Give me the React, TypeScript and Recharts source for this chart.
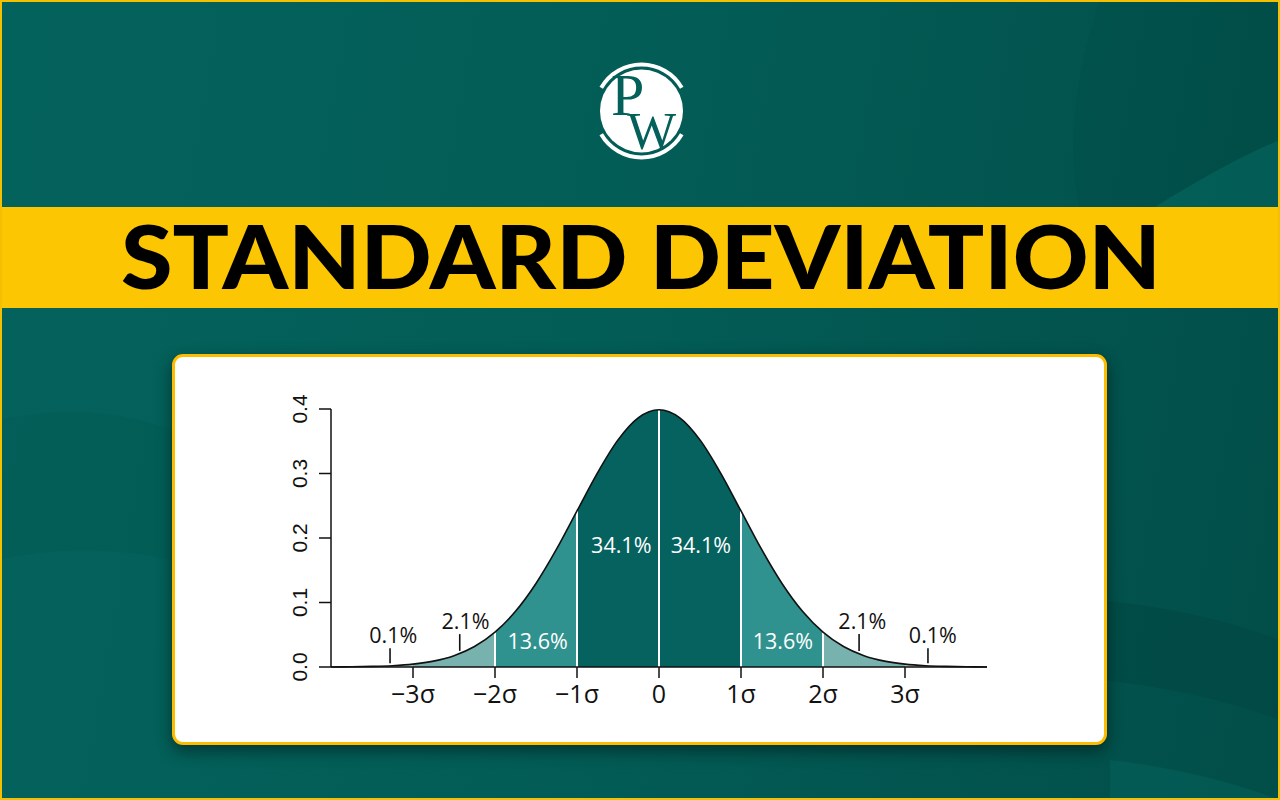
import React from "react";
import {
  ComposedChart,
  Area,
  Line,
  XAxis,
  YAxis,
  ReferenceLine,
  ReferenceDot,
} from "recharts";

// density of the curve, every quarter sigma
const xs = [
  -4, -3.75, -3.5, -3.25, -3, -2.75, -2.5, -2.25, -2, -1.75, -1.5, -1.25, -1, -0.75, -0.5, -0.25,
  0, 0.25, 0.5, 0.75, 1, 1.25, 1.5, 1.75, 2, 2.25, 2.5, 2.75, 3, 3.25, 3.5, 3.75, 4,
];
const density = [
  0.0001, 0.0004, 0.0009, 0.002, 0.0044, 0.0091, 0.0175, 0.0317, 0.054, 0.0863, 0.1295, 0.1826,
  0.242, 0.3011, 0.3521, 0.3867, 0.3989, 0.3867, 0.3521, 0.3011, 0.242, 0.1826, 0.1295, 0.0863,
  0.054, 0.0317, 0.0175, 0.0091, 0.0044, 0.002, 0.0009, 0.0004, 0.0001,
];

// sigma bands
const bandEdges = [-3, -2, -1, 1, 2, 3];
const bandColors = ["#b7d6d3", "#78b2ae", "#2f928e", "#05625f", "#2f928e", "#78b2ae", "#b7d6d3"];
const dividerX = [-2, -1, 0, 1, 2];

// axes
const xTicks = [-3, -2, -1, 0, 1, 2, 3];
const xTickLabels = ["\u22123\u03c3", "\u22122\u03c3", "\u22121\u03c3", "0", "1\u03c3", "2\u03c3", "3\u03c3"];
const yTicks = [0, 0.1, 0.2, 0.3, 0.4];
const yTickLabels = ["0.0", "0.1", "0.2", "0.3", "0.4"];

// percentage labels
const pctText = ["0.1%", "2.1%", "13.6%", "34.1%", "34.1%", "13.6%", "2.1%", "0.1%"];
const pctX = [-3.24, -2.36, -1.48, -0.46, 0.51, 1.51, 2.48, 3.34];
const pctY = [0.049, 0.071, 0.04, 0.189, 0.189, 0.04, 0.071, 0.049];
const pctInside = [false, false, true, true, true, true, false, false];

// small pointer marks under the tail labels
const markX = [-3.28, -2.43, 2.44, 3.28];
const markLow = [0.006, 0.025, 0.025, 0.006];
const markHigh = [0.029, 0.051, 0.051, 0.029];

const rows = xs.map((x, i) => ({ x, curve: density[i] }));
const densityAt = (x: number) => density[xs.indexOf(x)];
const xMin = xs[0];
const xMax = xs[xs.length - 1];
const off = (x: number) => `${((x - xMin) / (xMax - xMin)) * 100}%`;

const XTick = (props: any) => {
  const { x, y, payload } = props;
  const i = xTicks.indexOf(payload.value);
  return (
    <text x={x} y={y + 23} textAnchor="middle" fontFamily="'Open Sans'" fontSize={25} fill="#111">
      {xTickLabels[i]}
    </text>
  );
};

const YTick = (props: any) => {
  const { x, y, payload } = props;
  const i = yTicks.indexOf(payload.value);
  return (
    <text
      transform={`translate(${x - 10},${y}) rotate(-90)`}
      textAnchor="middle"
      fontFamily="'Liberation Sans', Arial"
      fontSize={21}
      fill="#111"
    >
      {yTickLabels[i]}
    </text>
  );
};

function Logo() {
  const cx = 641.5;
  const cy = 111;
  const r = 46.5;
  const pt = (deg: number) => {
    const a = (deg * Math.PI) / 180;
    return `${cx + r * Math.cos(a)},${cy - r * Math.sin(a)}`;
  };
  return (
    <svg width={1280} height={200} style={{ position: "absolute", left: 0, top: 0 }}>
      <path d={`M ${pt(150)} A ${r} ${r} 0 0 1 ${pt(30)}`} stroke="#fff" strokeWidth={4} fill="none" />
      <path d={`M ${pt(210)} A ${r} ${r} 0 0 0 ${pt(330)}`} stroke="#fff" strokeWidth={4} fill="none" />
      <circle cx={cx} cy={cy} r={41.5} fill="#fff" />
      <text x={611} y={115} fontFamily="'Liberation Serif', 'DejaVu Serif'" fontSize={60} fill="#03605a">
        P
      </text>
      <text x={627} y={149} fontFamily="'Liberation Serif', 'DejaVu Serif'" fontSize={52} fill="#03605a">
        W
      </text>
    </svg>
  );
}

export default function App() {
  return (
    <div
      style={{
        position: "absolute",
        left: 0,
        top: 0,
        width: 1280,
        height: 800,
        overflow: "hidden",
        background: "linear-gradient(100deg, #04625c 0%, #035d57 45%, #024e49 100%)",
      }}
    >
      {/* faint background swooshes */}
      <svg width={1280} height={800} style={{ position: "absolute", left: 0, top: 0 }}>
        <path d="M 1100 0 Q 1060 120 1080 210 L 1280 210 L 1280 0 Z" fill="#01403c" opacity={0.15} />
        <path d="M 1150 210 Q 1230 160 1280 140 L 1280 210 Z" fill="#067068" opacity={0.45} />
        <path d="M 1100 600 Q 1200 610 1280 640 L 1280 720 Q 1200 690 1100 680 Z" fill="#01403c" opacity={0.3} />
        <path d="M 1110 760 Q 1200 770 1280 800 L 1110 800 Z" fill="#067068" opacity={0.3} />
        <path d="M 0 420 Q 90 400 172 430 L 172 560 Q 80 540 0 560 Z" fill="#01403c" opacity={0.08} />
      </svg>

      <Logo />

      <div style={{ position: "absolute", left: 0, top: 207, width: 1280, height: 101, background: "#fcc602" }} />
      <svg width={1280} height={120} style={{ position: "absolute", left: 0, top: 200 }}>
        <text
          x={121}
          y={89}
          textLength={1040}
          lengthAdjust="spacingAndGlyphs"
          fontFamily="Lato, 'Open Sans'"
          fontWeight={900}
          fontSize={87}
          fill="#000"
        >
          STANDARD DEVIATION
        </text>
      </svg>

      <div
        style={{
          position: "absolute",
          left: 172,
          top: 354,
          width: 935,
          height: 391,
          boxSizing: "border-box",
          background: "#fff",
          border: "3px solid #fdbc00",
          borderRadius: 11,
          boxShadow: "0 6px 16px rgba(0,0,0,0.45)",
        }}
      />

      <div style={{ position: "absolute", left: 250, top: 380 }}>
        <ComposedChart
          width={760}
          height={340}
          data={rows}
          margin={{ top: 29, right: 23, bottom: 3, left: 0 }}
        >
          <defs>
            <linearGradient id="bands" x1="0" y1="0" x2="1" y2="0">
              {bandColors.map((c, i) => {
                const from = i === 0 ? xMin : bandEdges[i - 1];
                const to = i === bandColors.length - 1 ? xMax : bandEdges[i];
                return (
                  <React.Fragment key={i}>
                    <stop offset={off(from)} stopColor={c} />
                    <stop offset={off(to)} stopColor={c} />
                  </React.Fragment>
                );
              })}
            </linearGradient>
          </defs>
          <XAxis
            dataKey="x"
            type="number"
            domain={[xMin, xMax]}
            ticks={xTicks}
            tickSize={11}
            height={50}
            stroke="#111"
            strokeWidth={1.5}
            tick={<XTick />}
            interval={0}
          />
          <YAxis
            type="number"
            domain={[0, 0.4]}
            ticks={yTicks}
            tickSize={12}
            width={81}
            stroke="#111"
            strokeWidth={1.5}
            tick={<YTick />}
            interval={0}
          />
          <Area
            dataKey="curve"
            type="monotone"
            fill="url(#bands)"
            fillOpacity={1}
            stroke="none"
            isAnimationActive={false}
          />
          {dividerX.map((x) => (
            <ReferenceLine
              key={`d${x}`}
              segment={[
                { x, y: 0 },
                { x, y: densityAt(x) },
              ]}
              stroke="#fff"
              strokeWidth={2}
            />
          ))}
          {markX.map((x, i) => (
            <ReferenceLine
              key={`m${i}`}
              segment={[
                { x, y: markLow[i] },
                { x, y: markHigh[i] },
              ]}
              stroke="#111"
              strokeWidth={1.6}
            />
          ))}
          <Line
            dataKey="curve"
            type="monotone"
            stroke="#111"
            strokeWidth={1.6}
            dot={false}
            isAnimationActive={false}
          />
          {pctText.map((t, i) => (
            <ReferenceDot
              key={`p${i}`}
              x={pctX[i]}
              y={pctY[i]}
              shape={(p: any) => (
                <text
                  x={p.cx}
                  y={p.cy}
                  dy="0.36em"
                  textAnchor="middle"
                  fontFamily="'Open Sans'"
                  fontSize={21.5}
                  fill={pctInside[i] ? "#fff" : "#111"}
                >
                  {t}
                </text>
              )}
            />
          ))}
        </ComposedChart>
      </div>

      <div
        style={{
          position: "absolute",
          left: 0,
          top: 0,
          width: 1280,
          height: 800,
          boxSizing: "border-box",
          border: "2px solid #f5c000",
          pointerEvents: "none",
        }}
      />
    </div>
  );
}
